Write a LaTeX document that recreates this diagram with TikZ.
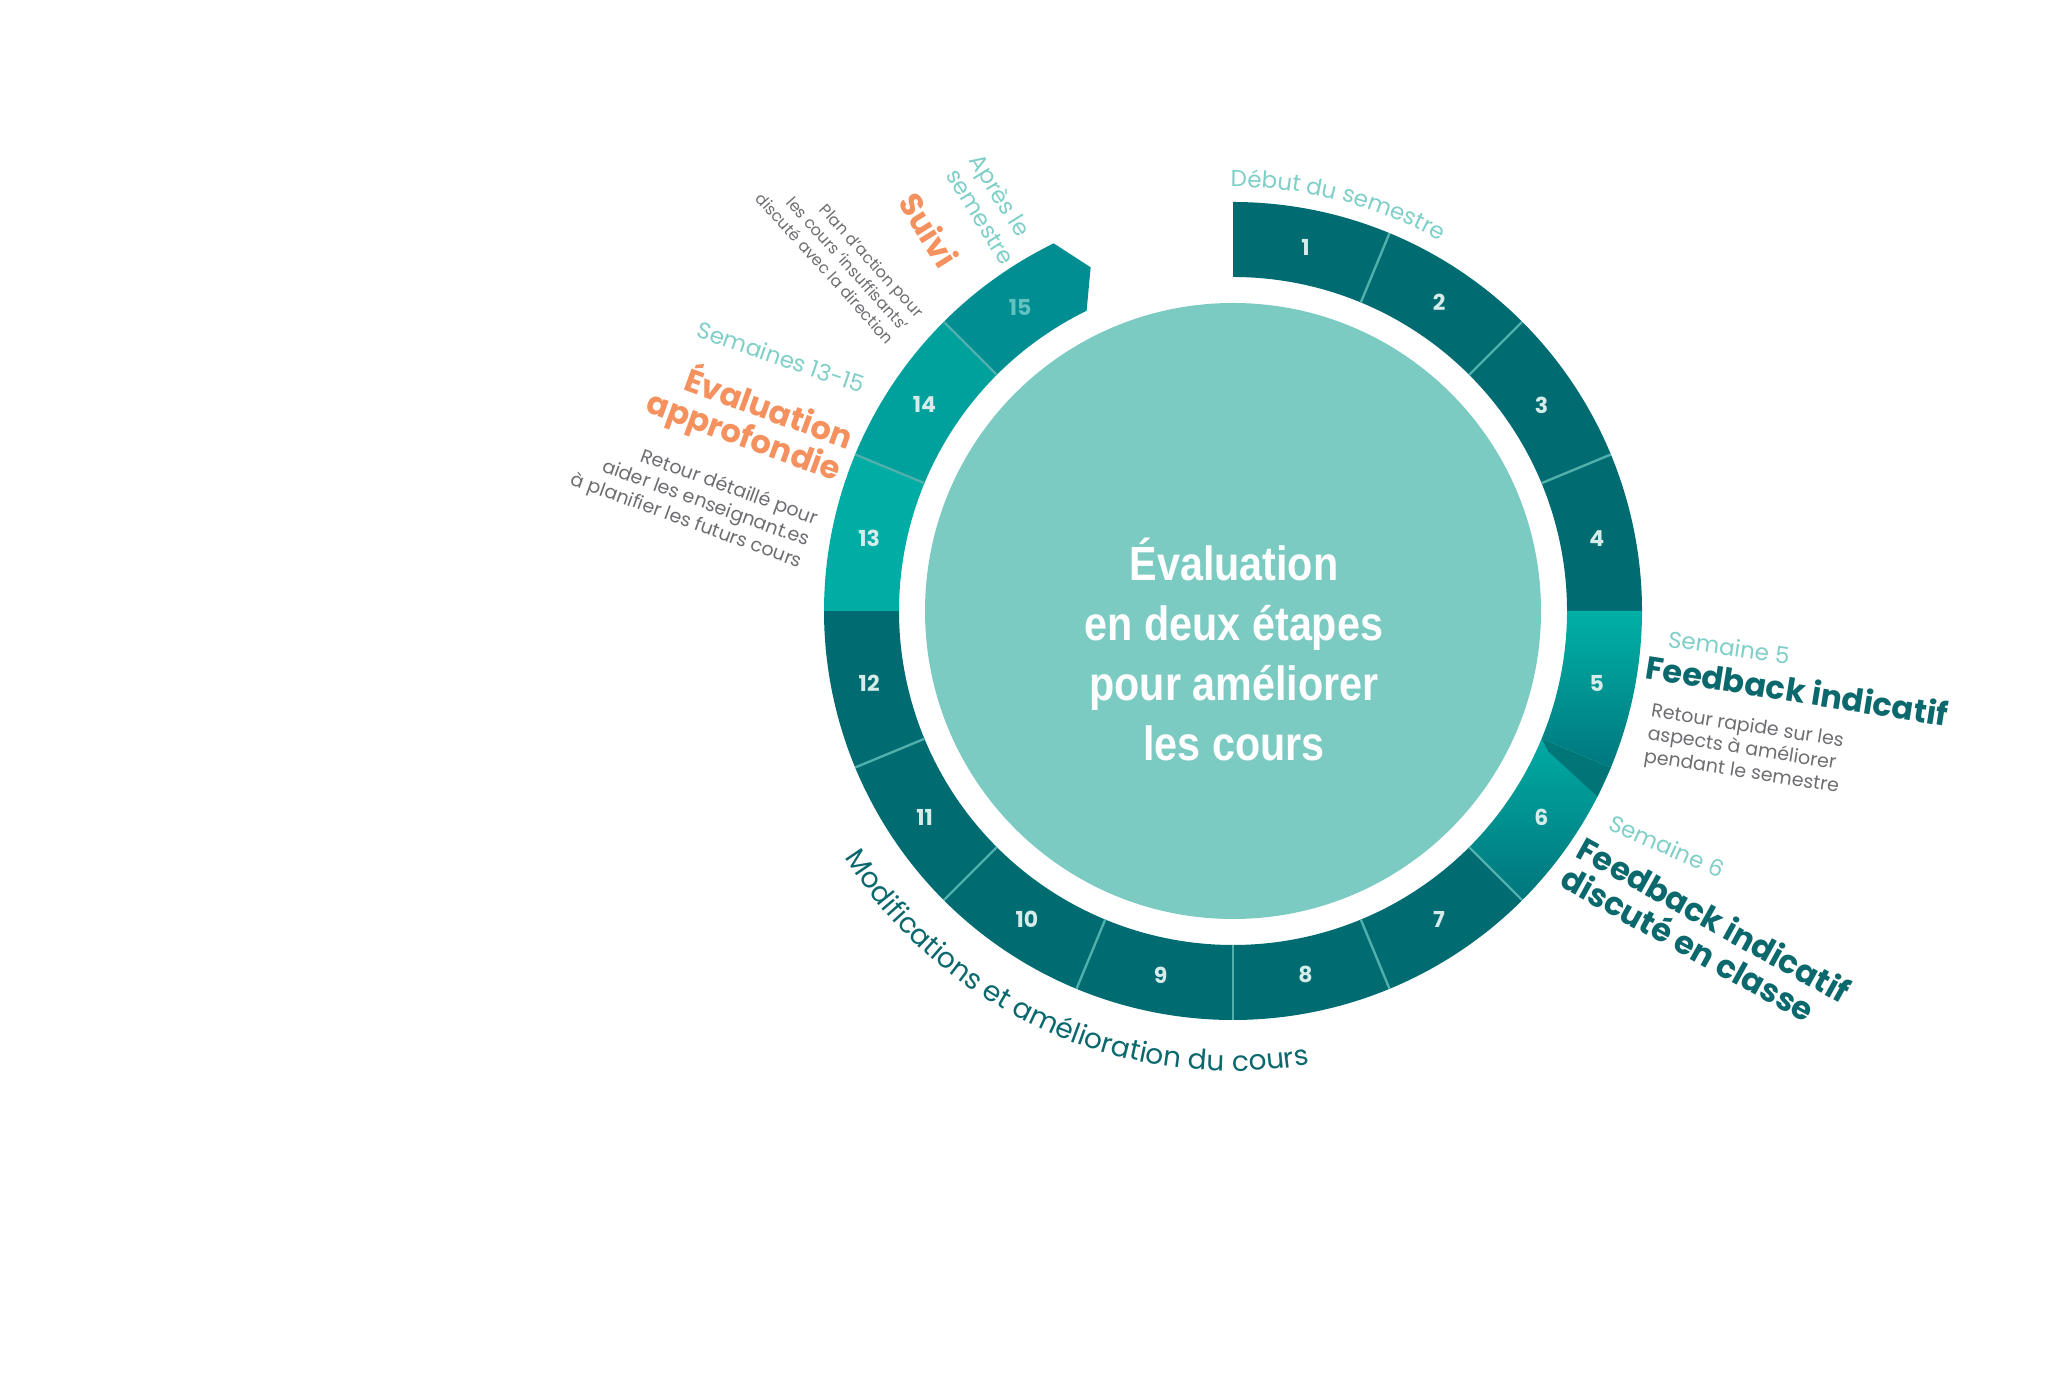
\documentclass[tikz,border=0pt]{standalone}
\usepackage{fontspec}
\setmainfont{Poppins}
\newfontfamily\narrowf{Liberation Sans}[FakeStretch=0.86]
\usetikzlibrary{decorations.text}
\definecolor{dteal}{HTML}{006B70}
\definecolor{lteal}{HTML}{7FCFC8}
\definecolor{disk}{HTML}{7CCBC3}
\definecolor{orng}{HTML}{F4915E}
\definecolor{gtext}{HTML}{6D6E71}
\definecolor{numc}{HTML}{D6ECEA}
\definecolor{sep}{HTML}{4FB0AC}
\definecolor{titc}{HTML}{0B686D}
\tikzset{
  num/.style={font=\bfseries\fontsize{11}{13}\selectfont, text=numc},
  light/.style={font=\fontsize{11.5}{14}\selectfont, text=lteal},
  head/.style={font=\bfseries\fontsize{16}{17}\selectfont},
  small/.style={font=\fontsize{9.5}{11.5}\selectfont, text=gtext},
}
\begin{document}
\begin{tikzpicture}[x=0.5pt,y=0.5pt]
\useasboundingbox (0,0) rectangle (2048,1380);
\begin{scope}[shift={(1233,769)}]
% segments
\foreach \i in {1,...,12}{
  \pgfmathsetmacro\sa{90-(\i-1)*22.5}
  \pgfmathsetmacro\ea{90-\i*22.5}
  \ifnum\i=5\relax
    \shade[top color={rgb,255:red,0;green,176;blue,166}, bottom color={rgb,255:red,0;green,120;blue,126}]
      (\sa:409) arc[start angle=\sa,end angle=\ea,radius=409] -- (\ea:334) arc[start angle=\ea,end angle=\sa,radius=334] -- cycle;
  \else\ifnum\i=6\relax
    \shade[top color={rgb,255:red,0;green,170;blue,162}, bottom color={rgb,255:red,0;green,118;blue,124}]
      (\sa:409) arc[start angle=\sa,end angle=\ea,radius=409] -- (\ea:334) arc[start angle=\ea,end angle=\sa,radius=334] -- cycle;
  \else
    \fill[dteal] (\sa:409) arc[start angle=\sa,end angle=\ea,radius=409] -- (\ea:334) arc[start angle=\ea,end angle=\sa,radius=334] -- cycle;
  \fi\fi
  \pgfmathsetmacro\ma{90-(\i-0.5)*22.5}
  \node[num] (n\i) at (\ma:371) {\i};
}
\fill[dteal, opacity=0.8] (-27:409) -- (-22.5:409) -- (-22.5:334) -- (-24:345) -- cycle;
\fill[dteal, opacity=0.6] (-45:409) -- (-45:390) -- (-50:395) -- (-52:409) -- cycle;
\fill[fill={rgb,255:red,0;green,173;blue,165}] (180:409) arc[start angle=180,end angle=157.5,radius=409] -- (157.5:334) arc[start angle=157.5,end angle=180,radius=334] -- cycle;
\fill[fill={rgb,255:red,0;green,160;blue,157}] (157.5:409) arc[start angle=157.5,end angle=135,radius=409] -- (135:334) arc[start angle=135,end angle=157.5,radius=334] -- cycle;
\fill[fill={rgb,255:red,0;green,142;blue,146}] (135:409) arc[start angle=135,end angle=116,radius=409] -- (112.5:372) -- (116:334) arc[start angle=116,end angle=135,radius=334] -- cycle;
\node[num] (n13) at (168.75:371) {13};
\node[num] (n14) at (146.25:371) {14};
\node[num, text={rgb,255:red,99;green,194;blue,192}] (n15) at (125:371) {15};
% separators
\foreach \a in {67.5,45,22.5,-45,-67.5,-90,-112.5,-135,-157.5,157.5,135}{
  \draw[sep, line width=1.2] (\a:334) -- (\a:409);
}
% disk
\fill[disk] (0,0) circle[radius=308];
\node[font=\narrowf\bfseries\fontsize{24}{30}\selectfont, text=white, align=center] (title) at (1,-38)
  {Évaluation\\en deux étapes\\pour améliorer\\les cours};
% arc texts
\path[decorate, decoration={text along path, text align=center,
   text={|\fontsize{11.5}{14}\selectfont\color{lteal}|Début du semestre}}]
   (91:424) arc[start angle=91,end angle=60,radius=424];
\path[decorate, decoration={text along path, text align=center,
   text={|\fontsize{14}{16}\selectfont\color{titc}|Modifications et amélioration du cours}}]
   (-151:460) arc[start angle=-151,end angle=-77,radius=460];
\end{scope}
% labels right
\node[light, rotate=-8] (s5) at (1729,733) {Semaine 5};
\node[head, text=titc, rotate=-9] (f5) at (1797,690) {Feedback indicatif};
\node[small, rotate=-9, align=left] (r5) at (1745,630) {Retour rapide sur les\\aspects à améliorer\\pendant le semestre};
\node[light, rotate=-24] (s6) at (1667,534) {Semaine 6};
\node[head, text=titc, rotate=-29, align=left] (f6) at (1706,446) {Feedback indicatif\\discuté en classe};
% labels left
\node[light, rotate=-19] (s13) at (781,1023) {Semaines 13-15};
\node[head, text=orng, rotate=-20, align=right] (e13) at (750,960) {Évaluation\\approfondie};
\node[small, rotate=-20, align=right] (r13) at (694,880) {Retour détaillé pour\\aider les enseignant.es\\à planifier les futurs cours};
\node[light, rotate=-58, align=left] (apres) at (993,1171) {Après le\\semestre};
\node[head, text=orng, rotate=-58] (suivi) at (929,1150) {Suivi};
\node[small, font=\fontsize{8}{10}\selectfont, rotate=-48, align=right] (plan) at (840,1125) {Plan d’action pour\\les cours ‘insuffisants’\\discuté avec la direction};
\end{tikzpicture}
\end{document}
